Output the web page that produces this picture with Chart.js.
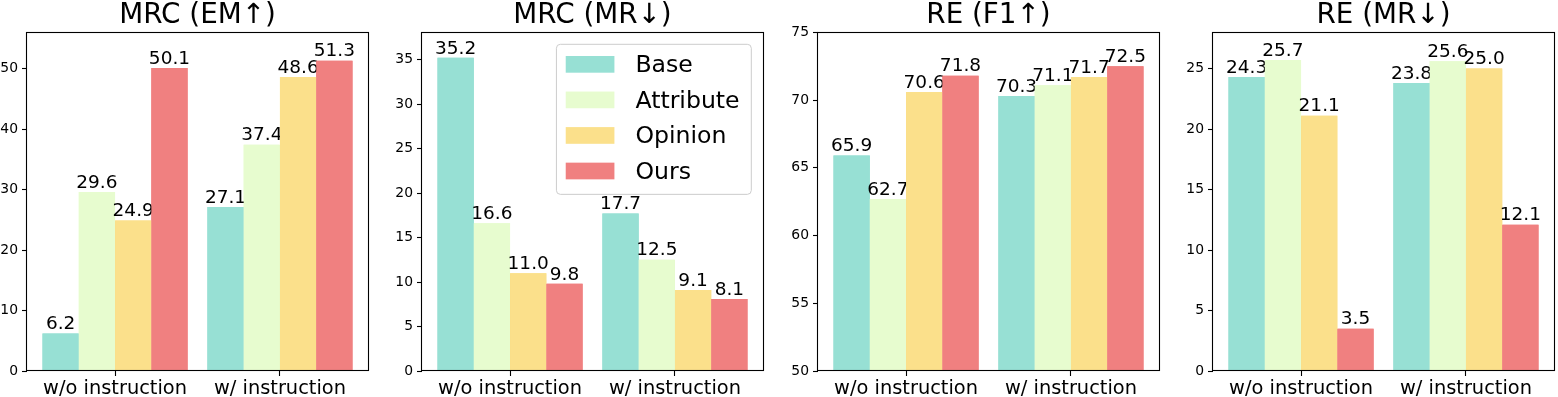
<!DOCTYPE html>
<html>
<head>
<meta charset="utf-8">
<script src="https://cdn.jsdelivr.net/npm/chart.js@4.4.1/dist/chart.umd.min.js"></script>
<style>
  html, body { margin: 0; padding: 0; background: #fff; }
  body { width: 1558px; height: 397px; position: relative; overflow: hidden; }
  canvas { position: absolute; top: 0; }
</style>
</head>
<body>
<canvas id="mrcEm" width="372" height="397" style="left:0px"></canvas>
<canvas id="mrcMr" width="372" height="397" style="left:395px"></canvas>
<canvas id="reF1" width="372" height="397" style="left:791px"></canvas>
<canvas id="reMr" width="372" height="397" style="left:1186px"></canvas>
<script>
const FONT = "'DejaVu Sans', sans-serif";

// categories and series
const groups = ["w/o instruction", "w/ instruction"];
const groupPositions = [0, 1];
const seriesNames = ["Base", "Attribute", "Opinion", "Ours"];
const seriesColors = ["#97E0D4", "#E7FCCF", "#FBE08B", "#F08080"];

// values per series: [w/o instruction, w/ instruction]
const mrcEmValues = [[6.2, 27.1], [29.6, 37.4], [24.9, 48.6], [50.1, 51.3]];
const mrcMrValues = [[35.2, 17.7], [16.6, 12.5], [11.0, 9.1], [9.8, 8.1]];
const reF1Values = [[65.9, 70.3], [62.7, 71.1], [70.6, 71.7], [71.8, 72.5]];
const reMrValues = [[24.3, 23.8], [25.7, 25.6], [21.1, 25.0], [3.5, 12.1]];

// y tick labels
const mrcEmTicks = [0, 10, 20, 30, 40, 50];
const mrcMrTicks = [0, 5, 10, 15, 20, 25, 30, 35];
const reF1Ticks = [50, 55, 60, 65, 70, 75];
const reMrTicks = [0, 5, 10, 15, 20, 25];

/* value labels above bars; bars are repainted series by series
   so later bars overlap earlier labels, like matplotlib does */
const barLabels = {
    id: "barLabels",
    afterDatasetsDraw(chart) {
        const ctx = chart.ctx;
        const area = chart.chartArea;
        chart.data.datasets.forEach((ds, i) => {
            const meta = chart.getDatasetMeta(i);
            ctx.save();
            ctx.beginPath();
            ctx.rect(area.left, area.top, area.right - area.left, area.bottom - area.top);
            ctx.clip();
            meta.data.forEach(bar => bar.draw(ctx));
            ctx.restore();

            ctx.save();
            ctx.fillStyle = "#000";
            ctx.font = `18.5px ${FONT}`;
            ctx.textAlign = "center";
            ctx.textBaseline = "alphabetic";
            meta.data.forEach((bar, j) => {
                ctx.fillText(ds.data[j].y.toFixed(1), bar.x, bar.y - 4.3);
            });
            ctx.restore();
        });
    }
};

// full box around the plot area
const frame = {
    id: "frame",
    afterDraw(chart) {
        const { left, top, right, bottom } = chart.chartArea;
        const ctx = chart.ctx;
        ctx.save();
        ctx.strokeStyle = "#000";
        ctx.lineWidth = 1.1;
        ctx.strokeRect(Math.round(left) - 0.5, Math.round(top) + 0.5,
            Math.round(right) - Math.round(left) + 1, Math.round(bottom) - Math.round(top) - 1);
        ctx.restore();
    }
};

// legend box in the upper right corner of the plot
const boxLegend = {
    id: "boxLegend",
    afterDraw(chart) {
        const ctx = chart.ctx;
        const area = chart.chartArea;
        const datasets = chart.data.datasets;
        ctx.save();
        ctx.font = `23.6px ${FONT}`;
        const textW = Math.max(...datasets.map(d => ctx.measureText(d.label).width));
        const padL = 9.3, swW = 48.7, swH = 16.7, gap = 21, padR = 11.7;
        const rowH = 35.55, padT = 11.7, padB = 15;
        const w = padL + swW + gap + textW + padR;
        const h = padT + (datasets.length - 1) * rowH + swH + padB;
        const x0 = area.right - 11.7 - w;
        const y0 = area.top + 12;

        ctx.beginPath();
        ctx.roundRect(x0, y0, w, h, 4);
        ctx.fillStyle = "rgba(255,255,255,0.8)";
        ctx.fill();
        ctx.strokeStyle = "#cccccc";
        ctx.lineWidth = 1;
        ctx.stroke();

        datasets.forEach((ds, i) => {
            const sy = y0 + padT + i * rowH;
            ctx.fillStyle = ds.backgroundColor;
            ctx.fillRect(x0 + padL, sy, swW, swH);
            ctx.fillStyle = "#000";
            ctx.textAlign = "left";
            ctx.textBaseline = "alphabetic";
            ctx.fillText(ds.label, x0 + padL + swW + gap, sy + swH - 0.4);
        });
        ctx.restore();
    }
};

function axisGrid() {
    return {
        drawOnChartArea: false,
        drawTicks: true,
        tickLength: 5,
        tickColor: "#000",
        tickWidth: 1.1,
        offset: false
    };
}

function makeChart(canvasId, title, values, yTicks, yMin, yMax, withLegend) {
    const ctx = document.getElementById(canvasId).getContext("2d");
    const plugins = [barLabels, frame];
    if (withLegend) plugins.push(boxLegend);

    return new Chart(ctx, {
        type: "bar",
        data: {
            datasets: seriesNames.map((name, i) => ({
                label: name,
                data: groupPositions.map((x, j) => ({ x, y: values[i][j] })),
                backgroundColor: seriesColors[i],
                borderWidth: 0,
                categoryPercentage: 0.88,
                barPercentage: 1.0
            }))
        },
        options: {
            responsive: false,
            animation: false,
            devicePixelRatio: 1,
            layout: { padding: { left: 0, right: 4, top: 0, bottom: 0 } },
            plugins: {
                legend: { display: false },
                tooltip: { enabled: false },
                title: {
                    display: true,
                    text: title,
                    color: "#000",
                    fullSize: false,
                    font: { family: FONT, size: 27.8, weight: "normal", lineHeight: 1 },
                    padding: { top: 1.5, bottom: 3 }
                }
            },
            scales: {
                x: {
                    type: "linear",
                    min: -0.534,
                    max: 1.534,
                    offset: false,
                    afterBuildTicks: axis => { axis.ticks = groupPositions.map(v => ({ value: v })); },
                    afterFit: axis => { axis.height = 26; },
                    grid: axisGrid(),
                    border: { display: false },
                    ticks: {
                        callback: (v, i) => groups[i],
                        color: "#000",
                        font: { family: FONT, size: 19.4 },
                        padding: 1.5,
                        maxRotation: 0,
                        autoSkip: false
                    }
                },
                y: {
                    type: "linear",
                    min: yMin,
                    max: yMax,
                    afterBuildTicks: axis => { axis.ticks = yTicks.map(v => ({ value: v })); },
                    afterFit: axis => { axis.width = 27; },
                    grid: axisGrid(),
                    border: { display: false },
                    ticks: {
                        color: "#000",
                        font: { family: FONT, size: 13.9 },
                        padding: 4
                    }
                }
            }
        },
        plugins
    });
}

makeChart("mrcEm", "MRC (EM↑)", mrcEmValues, mrcEmTicks, 0, 56, false);
makeChart("mrcMr", "MRC (MR↓)", mrcMrValues, mrcMrTicks, 0, 38.07, true);
makeChart("reF1", "RE (F1↑)", reF1Values, reF1Ticks, 50, 75, false);
makeChart("reMr", "RE (MR↓)", reMrValues, reMrTicks, 0, 28, false);
</script>
</body>
</html>
